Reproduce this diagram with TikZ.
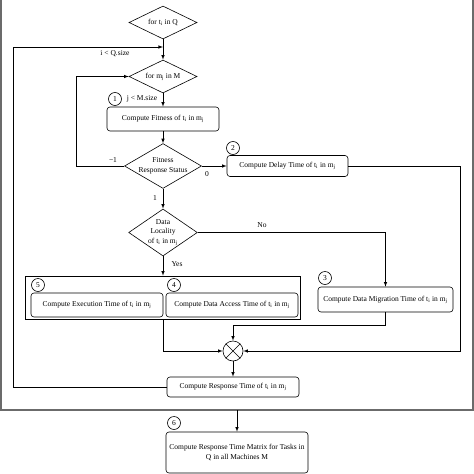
\documentclass[tikz,border=0pt]{standalone}
\usepackage{fontspec}
\setmainfont{Liberation Serif}
\usetikzlibrary{shapes.geometric}

\newcommand{\taskI}{t\textsubscript{i}}
\newcommand{\machJ}{m\textsubscript{j}}

\tikzstyle{block} = [rectangle, draw, rounded corners=3pt, text centered, inner sep=1pt, minimum height=24pt]
\tikzstyle{decision} = [diamond, draw, text centered, align=center, inner sep=0pt]
\tikzstyle{line} = [draw, -latex, line width=.6pt]
\tikzstyle{stepnum} = [circle, draw, inner sep=0pt, minimum size=13pt]
\tikzstyle{frame} = [draw=black!58, line width=1.6pt]

\begin{document}
\begin{tikzpicture}[x=1pt, y=1pt, line width=.6pt, font=\fontsize{7.5}{9.5}\selectfont]
    \useasboundingbox (0,0) rectangle (474,-474);

    % OUTER FRAME (top is cut off)
        \draw[frame] (1,0) |- (473,-410) -- (473,0);
        \coordinate (fb) at (237,-410);
        \coordinate (qin) at (163,-47);

    % LOOP HEADS
        \node [decision, aspect=2, minimum width=68pt, minimum height=33pt]
            (forQ) at (163,-22.5) {for \taskI{} in Q};
        \node [decision, aspect=2, minimum width=68pt, minimum height=33pt, below of=forQ, node distance=54pt]
            (forM) {for \machJ{} in M};

    % STEP 1 + 2
        \node [block, minimum width=112pt, below of=forM, node distance=42.5pt]
            (fitness) {Compute Fitness of \taskI{} in \machJ};
        \node [decision, aspect=1.7, minimum width=77pt, minimum height=44pt, below of=fitness, node distance=47pt]
            (status) {Fitness\\Response Status};
        \node [block, minimum width=121pt, minimum height=21pt, right of=status, node distance=124.5pt]
            (delay) {Compute Delay Time of \taskI{} in \machJ};

    % DATA LOCALITY
        \node [decision, aspect=1.5, minimum width=68pt, minimum height=47pt, below of=status, node distance=66.5pt]
            (locality) {Data\\Locality\\of \taskI{} in \machJ};
        \node [rectangle, draw, minimum width=275pt, minimum height=43pt, below of=locality, node distance=65pt]
            (group) {};
        \node [block, minimum width=132pt]
            (exec) at (97,-305) {Compute Execution Time of \taskI{} in \machJ};
        \node [block, minimum width=132pt]
            (access) at (232,-305) {Compute Data Access Time of \taskI{} in \machJ};
        \node [block, minimum width=135pt, minimum height=25pt]
            (migration) at (385.5,-299.5) {Compute Data Migration Time of \taskI{} in \machJ};

    % MERGE + RESPONSE
        \node [circle, draw, minimum size=20pt, inner sep=0pt]
            (merge) at (233,-351) {};
        \draw (merge.north west) -- (merge.south east)
            (merge.north east) -- (merge.south west);
        \node [block, minimum width=132pt, minimum height=20pt, below of=merge, node distance=36pt]
            (resp) {Compute Response Time of \taskI{} in \machJ};
        \node [block, align=center, minimum width=142pt, minimum height=41pt]
            (matrix) at (237,-452.5) {Compute Response Time Matrix for Tasks in\\Q in all Machines M};

    % STEP NUMBERS
        \node [stepnum] (n1) at (115,-99) {1};
        \node [stepnum] (n2) at (233,-148) {2};
        \node [stepnum] (n3) at (325,-278) {3};
        \node [stepnum] (n4) at (174,-285) {4};
        \node [stepnum] (n5) at (38,-285) {5};
        \node [stepnum] (n6) at (174,-423) {6};

    % LABELS
        \node (lq) at (115,-54) {i < Q.size};
        \node (lm) at (142,-99) {j < M.size};
        \node (lneg) at (113,-160) {−1};
        \node (lzero) at (207,-174) {0};
        \node (lone) at (155,-198) {1};
        \node (lno) at (262,-225) {No};
        \node (lyes) at (177,-264) {Yes};

    % LINES
        \path[line] (forQ) -- (forM);
        \path[line] (forM) -- (fitness);
        \path[line] (fitness) -- (status);
        \path[line] (status) -- (delay);
        \path[line] (status) -- (locality);
        \path[line] (locality) -- (group);
        \path[line] (locality.east) -| (migration.north);
        \path[line] (delay.east) -- ++(112,0) |- (merge.east);
        \path[line] (group.south) |- (merge.west);
        \path[line] (migration.south) -- ++(0,-13) -| (merge.north);
        \path[line] (merge) -- (resp);
    % LINE loops back
        \path[line] (resp.west) -- ++(-153,0) |- (qin);
        \path[line] (status.west) -- ++(-48,0) |- (forM.west);
    % LINE frame -> matrix
        \path[line] (fb) -- (matrix);
\end{tikzpicture}
\end{document}
